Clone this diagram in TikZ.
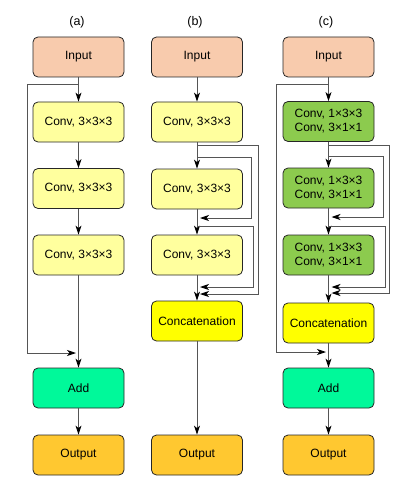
\documentclass[tikz,border=0pt]{standalone}
\usepackage{fontspec}
\setmainfont{Liberation Sans}
\usetikzlibrary{arrows.meta}
\definecolor{inC}{HTML}{F8CBAD}
\definecolor{convY}{HTML}{FFFF9E}
\definecolor{convG}{HTML}{8CCB4E}
\definecolor{catC}{HTML}{FFFF00}
\definecolor{addC}{HTML}{00F99A}
\definecolor{outC}{HTML}{FFC830}
\definecolor{lineC}{HTML}{555555}
\tikzset{
  blk/.style={draw=black!85, line width=0.8pt, rounded corners=5pt, minimum width=91pt, minimum height=40pt, inner sep=1pt, align=center, font=\fontsize{12}{14}\selectfont},
  lbl/.style={font=\fontsize{12.5}{14}\selectfont},
  conn/.style={draw=lineC, line width=0.9pt, -{Stealth[length=9pt,width=6pt,inset=2.5pt,color=black]}},
}
\begin{document}
\begin{tikzpicture}[x=1pt,y=-1pt]
\useasboundingbox (0,0) rectangle (402,500);
% labels
\node[lbl] (la) at (77,22) {(a)};
\node[lbl] (lb) at (195,22) {(b)};
\node[lbl] (lc) at (326,22) {(c)};
% column a
\node[blk, fill=inC] (ain) at (78.5,57) {Input};
\node[blk, fill=convY] (ac1) at (78.5,122) {Conv, 3×3×3};
\node[blk, fill=convY] (ac2) at (78.5,188.5) {Conv, 3×3×3};
\node[blk, fill=convY] (ac3) at (78.5,255) {Conv, 3×3×3};
\node[blk, fill=addC] (aadd) at (78.5,388) {Add};
\node[blk, fill=outC] (aout) at (78.5,455) {Output};
\draw[conn] (ain) -- (ac1);
\draw[conn] (ac1) -- (ac2);
\draw[conn] (ac2) -- (ac3);
\draw[conn] (ac3) -- (aadd);
\draw[conn] (aadd) -- (aout);
\coordinate (as0) at (78.5,84);
\coordinate (as1) at (76,353);
\draw[conn] (as0) -- (27,84) -- (27,353) -- (as1);
% column b
\node[blk, fill=inC] (bin) at (197,57) {Input};
\node[blk, fill=convY] (bc1) at (197,122) {Conv, 3×3×3};
\node[blk, fill=convY] (bc2) at (197,189) {Conv, 3×3×3};
\node[blk, fill=convY] (bc3) at (197,255) {Conv, 3×3×3};
\node[blk, fill=catC] (bcat) at (197,321) {Concatenation};
\node[blk, fill=outC] (bout) at (197,455) {Output};
\draw[conn] (bin) -- (bc1);
\draw[conn] (bc1) -- (bc2);
\draw[conn] (bc2) -- (bc3);
\draw[conn] (bc3) -- (bcat);
\draw[conn] (bcat) -- (bout);
\coordinate (b1s) at (197,145); \coordinate (b1e) at (200,294);
\coordinate (b2s) at (197,157); \coordinate (b2e) at (200,218);
\coordinate (b3s) at (197,226); \coordinate (b3e) at (200,287);
\draw[conn] (b1s) -- (258,145) -- (258,294) -- (b1e);
\draw[conn] (b2s) -- (251,157) -- (251,218) -- (b2e);
\draw[conn] (b3s) -- (253,226) -- (253,287) -- (b3e);
% column c
\node[blk, fill=inC] (cin) at (328.5,57) {Input};
\node[blk, fill=convG] (cc1) at (328.5,121.5) {Conv, 1×3×3\\Conv, 3×1×1};
\node[blk, fill=convG] (cc2) at (328.5,188) {Conv, 1×3×3\\Conv, 3×1×1};
\node[blk, fill=convG] (cc3) at (328.5,255) {Conv, 1×3×3\\Conv, 3×1×1};
\node[blk, fill=catC] (ccat) at (328.5,323) {Concatenation};
\node[blk, fill=addC] (cadd) at (328.5,388) {Add};
\node[blk, fill=outC] (cout) at (328.5,455) {Output};
\draw[conn] (cin) -- (cc1);
\draw[conn] (cc1) -- (cc2);
\draw[conn] (cc2) -- (cc3);
\draw[conn] (cc3) -- (ccat);
\draw[conn] (ccat) -- (cadd);
\draw[conn] (cadd) -- (cout);
\coordinate (c1s) at (328.5,145); \coordinate (c1e) at (331.5,293);
\coordinate (c2s) at (328.5,156); \coordinate (c2e) at (331.5,217);
\coordinate (c3s) at (328.5,226); \coordinate (c3e) at (331.5,287);
\draw[conn] (c1s) -- (389,145) -- (389,293) -- (c1e);
\draw[conn] (c2s) -- (383,156) -- (383,217) -- (c2e);
\draw[conn] (c3s) -- (385,226) -- (385,287) -- (c3e);
\coordinate (cs0) at (328.5,84);
\coordinate (cs1) at (326,352);
\draw[conn] (cs0) -- (276,84) -- (276,352) -- (cs1);
\end{tikzpicture}
\end{document}
